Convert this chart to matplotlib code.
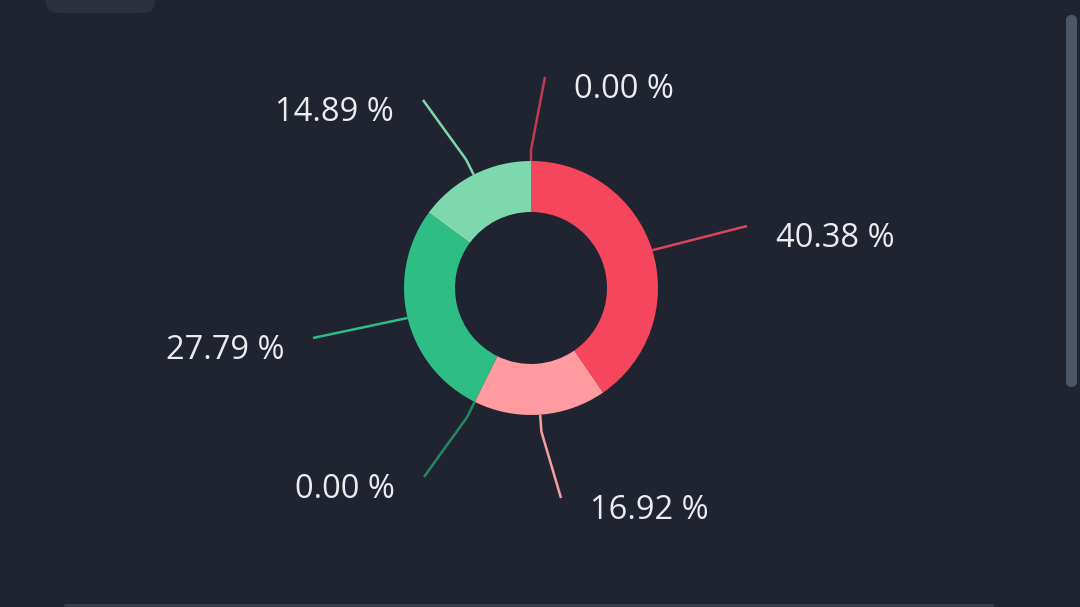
import matplotlib
matplotlib.use("Agg")
import matplotlib.pyplot as plt
from matplotlib.patches import FancyBboxPatch
import numpy as np

# ---- data ----
labels = ["0.00 %", "40.38 %", "16.92 %", "0.00 %", "27.79 %", "14.89 %"]
values = [0.00, 40.38, 16.92, 0.00, 27.79, 14.89]
slice_colors = ["#c23a52", "#f6465d", "#ff9ba0", "#1f8a60", "#2ebd85", "#7dd8ae"]
line_colors = ["#c23a52", "#d9475c", "#f2a0a3", "#1f8a60", "#2ebd85", "#7dd8ae"]

# ---- layout (pixel space, y downward) ----
W, H = 1080, 607
BG = "#1f2430"
cx, cy = 531, 288
R_out, R_in = 127, 76
# leader: first radial segment length, end points of second segment
seg1 = [11, 0, 17, 17, 0, 17]
line_ends = [(545, 77), (747, 226), (561, 498), (424, 477), (313, 338), (423, 100)]

fig = plt.figure(figsize=(W / 100, H / 100), dpi=100, facecolor=BG)
ax = fig.add_axes([0, 0, 1, 1])
ax.set_xlim(0, W)
ax.set_ylim(0, H)
ax.set_aspect("equal")
ax.axis("off")
ax.set_facecolor(BG)

def Y(y):
    return H - y

# decorative UI elements
ax.add_patch(FancyBboxPatch((46, Y(13)), 109, 30, boxstyle="round,pad=0,rounding_size=12",
                            fc="#2a303c", ec="none"))
ax.add_patch(FancyBboxPatch((1066, Y(387)), 11, 372, boxstyle="round,pad=0,rounding_size=5.5",
                            fc="#4d5666", ec="none"))
ax.add_patch(FancyBboxPatch((64, Y(607)), 930, 3, boxstyle="round,pad=0,rounding_size=1.5",
                            fc="#363c48", ec="none"))

ax.pie(values, colors=slice_colors, startangle=90, counterclock=False,
       center=(cx, Y(cy)), radius=R_out,
       wedgeprops=dict(width=R_out - R_in, edgecolor="none", linewidth=0),
       frame=True)
ax.set_xlim(0, W)
ax.set_ylim(0, H)
ax.axis("off")

total = sum(values)
cum = np.cumsum([0] + values)
for i, (lab, v) in enumerate(zip(labels, values)):
    mid = (cum[i] + cum[i + 1]) / 2 / total * 360.0  # clockwise from top
    th = np.deg2rad(mid)
    dx, dy = np.sin(th), -np.cos(th)  # pixel space (y down)
    p0 = (cx + R_out * dx, cy + R_out * dy)
    p1 = (p0[0] + seg1[i] * dx, p0[1] + seg1[i] * dy)
    p2 = line_ends[i]
    xs = [p0[0], p1[0], p2[0]]
    ys = [Y(p0[1]), Y(p1[1]), Y(p2[1])]
    ax.plot(xs, ys, color=line_colors[i], lw=1.8, solid_capstyle="butt", zorder=1)
    right = p2[0] > p1[0]
    tx = p2[0] + (29 if right else -29)
    ax.text(tx, Y(p2[1] + 12.5), lab, color="#eaecef", fontsize=23.5,
            family=["Open Sans", "DejaVu Sans"],
            ha="left" if right else "right", va="center")

fig.savefig("out.png", dpi=100, facecolor=BG)
